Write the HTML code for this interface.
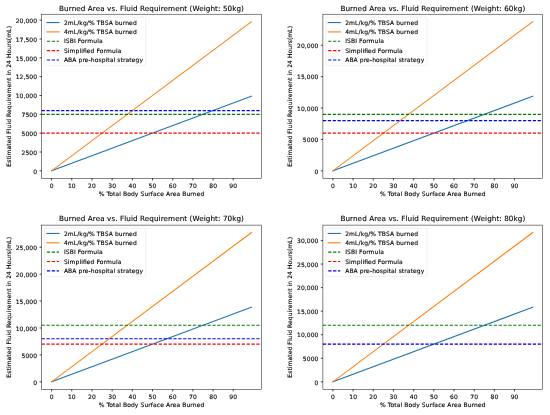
<!DOCTYPE html>
<html lang="en"><head><meta charset="utf-8"><title>Burned Area vs. Fluid Requirement</title>
<style>html,body{margin:0;padding:0;background:#fff;overflow:hidden}svg{filter:blur(0.3px)}svg text{white-space:pre;stroke:#000;stroke-width:0.12px;stroke-linejoin:round}</style>
</head><body>
<svg width="550" height="415" viewBox="0 0 550 415" style="display:block" font-family="'DejaVu Sans', 'Liberation Sans', sans-serif" fill="#000">
<rect width="550" height="415" fill="#fff"/>
<g><path d="M51.59 178.3v2.1M71.77 178.3v2.1M91.96 178.3v2.1M112.14 178.3v2.1M132.33 178.3v2.1M152.51 178.3v2.1M172.69 178.3v2.1M192.88 178.3v2.1M213.06 178.3v2.1M233.24 178.3v2.1M41.6 170.84h-2.1M41.6 152h-2.1M41.6 133.17h-2.1M41.6 114.33h-2.1M41.6 95.5h-2.1M41.6 76.66h-2.1M41.6 57.82h-2.1M41.6 38.99h-2.1M41.6 20.15h-2.1" stroke="#000" stroke-width="0.72" fill="none"/>
<text x="51.59" y="187.7" font-size="6" text-anchor="middle" textLength="3.89" lengthAdjust="spacing">0</text>
<text x="71.77" y="187.7" font-size="6" text-anchor="middle" textLength="7.79" lengthAdjust="spacing">10</text>
<text x="91.96" y="187.7" font-size="6" text-anchor="middle" textLength="7.79" lengthAdjust="spacing">20</text>
<text x="112.14" y="187.7" font-size="6" text-anchor="middle" textLength="7.79" lengthAdjust="spacing">30</text>
<text x="132.33" y="187.7" font-size="6" text-anchor="middle" textLength="7.79" lengthAdjust="spacing">40</text>
<text x="152.51" y="187.7" font-size="6" text-anchor="middle" textLength="7.79" lengthAdjust="spacing">50</text>
<text x="172.69" y="187.7" font-size="6" text-anchor="middle" textLength="7.79" lengthAdjust="spacing">60</text>
<text x="192.88" y="187.7" font-size="6" text-anchor="middle" textLength="7.79" lengthAdjust="spacing">70</text>
<text x="213.06" y="187.7" font-size="6" text-anchor="middle" textLength="7.79" lengthAdjust="spacing">80</text>
<text x="233.24" y="187.7" font-size="6" text-anchor="middle" textLength="7.79" lengthAdjust="spacing">90</text>
<text x="37.1" y="173.59" font-size="6" text-anchor="end" textLength="3.89" lengthAdjust="spacing">0</text>
<text x="37.1" y="154.75" font-size="6" text-anchor="end" textLength="15.58" lengthAdjust="spacing">2500</text>
<text x="37.1" y="135.92" font-size="6" text-anchor="end" textLength="15.58" lengthAdjust="spacing">5000</text>
<text x="37.1" y="117.08" font-size="6" text-anchor="end" textLength="15.58" lengthAdjust="spacing">7500</text>
<text x="37.1" y="98.25" font-size="6" text-anchor="end" textLength="21.41" lengthAdjust="spacing">10,000</text>
<text x="37.1" y="79.41" font-size="6" text-anchor="end" textLength="21.41" lengthAdjust="spacing">12,500</text>
<text x="37.1" y="60.57" font-size="6" text-anchor="end" textLength="21.41" lengthAdjust="spacing">15,000</text>
<text x="37.1" y="41.74" font-size="6" text-anchor="end" textLength="21.41" lengthAdjust="spacing">17,500</text>
<text x="37.1" y="22.9" font-size="6" text-anchor="end" textLength="21.41" lengthAdjust="spacing">20,000</text>
<text x="151.5" y="195.5" font-size="6" text-anchor="middle" textLength="105.52" lengthAdjust="spacing">% Total Body Surface Area Burned</text>
<text x="10.9" y="96.35" font-size="6" text-anchor="middle" textLength="140.68" lengthAdjust="spacing" transform="rotate(-90 10.9 96.35)">Estimated Fluid Requirement in 24 Hours(mL)</text>
<path d="M51.59 170.84L251.41 96.25" stroke="#1f77b4" stroke-width="1.12" fill="none" stroke-linecap="square"/>
<path d="M51.59 170.84L251.41 21.66" stroke="#ff7f0e" stroke-width="1.12" fill="none" stroke-linecap="square"/>
<path d="M41.6 114.33H261.4" stroke="#008000" stroke-width="1.12" stroke-dasharray="3.28 1.6" fill="none"/>
<path d="M41.6 133.17H261.4" stroke="#ff0000" stroke-width="1.12" stroke-dasharray="3.28 1.6" fill="none"/>
<path d="M41.6 110.57H261.4" stroke="#0000ff" stroke-width="1.12" stroke-dasharray="3.28 1.6" fill="none"/>
<rect x="41.6" y="14.2" width="219.8" height="164.1" fill="none" stroke="#000" stroke-width="0.48"/>
<text x="151.5" y="10.5" font-size="7.2" text-anchor="middle" textLength="184.81" lengthAdjust="spacing">Burned Area vs. Fluid Requirement (Weight: 50kg)</text>
<rect x="44.5" y="17.1" width="101.2" height="48.6" rx="1.2" fill="#fff" fill-opacity="0.8" stroke="#ccc" stroke-opacity="0.8" stroke-width="0.38"/>
<path d="M46.9 22.55H59" stroke="#1f77b4" stroke-width="1.12" fill="none" stroke-linecap="square"/>
<text x="63.9" y="24.65" font-size="6" text-anchor="start" textLength="72.81" lengthAdjust="spacing">2mL/kg/% TBSA burned</text>
<path d="M46.9 31.91H59" stroke="#ff7f0e" stroke-width="1.12" fill="none" stroke-linecap="square"/>
<text x="63.9" y="34.01" font-size="6" text-anchor="start" textLength="72.81" lengthAdjust="spacing">4mL/kg/% TBSA burned</text>
<path d="M46.9 41.27H59" stroke="#008000" stroke-width="1.12" fill="none" stroke-dasharray="3.28 1.6"/>
<text x="63.9" y="43.37" font-size="6" text-anchor="start" textLength="38.69" lengthAdjust="spacing">ISBI Formula</text>
<path d="M46.9 50.63H59" stroke="#ff0000" stroke-width="1.12" fill="none" stroke-dasharray="3.28 1.6"/>
<text x="63.9" y="52.73" font-size="6" text-anchor="start" textLength="57.48" lengthAdjust="spacing">Simplified Formula</text>
<path d="M46.9 59.99H59" stroke="#0000ff" stroke-width="1.12" fill="none" stroke-dasharray="3.28 1.6"/>
<text x="63.9" y="62.09" font-size="6" text-anchor="start" textLength="79.09" lengthAdjust="spacing">ABA pre-hospital strategy</text></g>
<g><path d="M332.89 178.3v2.1M353.07 178.3v2.1M373.26 178.3v2.1M393.44 178.3v2.1M413.63 178.3v2.1M433.81 178.3v2.1M453.99 178.3v2.1M474.18 178.3v2.1M494.36 178.3v2.1M514.54 178.3v2.1M322.9 170.84h-2.1M322.9 139.45h-2.1M322.9 108.05h-2.1M322.9 76.66h-2.1M322.9 45.27h-2.1" stroke="#000" stroke-width="0.72" fill="none"/>
<text x="332.89" y="187.7" font-size="6" text-anchor="middle" textLength="3.89" lengthAdjust="spacing">0</text>
<text x="353.07" y="187.7" font-size="6" text-anchor="middle" textLength="7.79" lengthAdjust="spacing">10</text>
<text x="373.26" y="187.7" font-size="6" text-anchor="middle" textLength="7.79" lengthAdjust="spacing">20</text>
<text x="393.44" y="187.7" font-size="6" text-anchor="middle" textLength="7.79" lengthAdjust="spacing">30</text>
<text x="413.63" y="187.7" font-size="6" text-anchor="middle" textLength="7.79" lengthAdjust="spacing">40</text>
<text x="433.81" y="187.7" font-size="6" text-anchor="middle" textLength="7.79" lengthAdjust="spacing">50</text>
<text x="453.99" y="187.7" font-size="6" text-anchor="middle" textLength="7.79" lengthAdjust="spacing">60</text>
<text x="474.18" y="187.7" font-size="6" text-anchor="middle" textLength="7.79" lengthAdjust="spacing">70</text>
<text x="494.36" y="187.7" font-size="6" text-anchor="middle" textLength="7.79" lengthAdjust="spacing">80</text>
<text x="514.54" y="187.7" font-size="6" text-anchor="middle" textLength="7.79" lengthAdjust="spacing">90</text>
<text x="318.4" y="173.59" font-size="6" text-anchor="end" textLength="3.89" lengthAdjust="spacing">0</text>
<text x="318.4" y="142.2" font-size="6" text-anchor="end" textLength="15.58" lengthAdjust="spacing">5000</text>
<text x="318.4" y="110.8" font-size="6" text-anchor="end" textLength="21.41" lengthAdjust="spacing">10,000</text>
<text x="318.4" y="79.41" font-size="6" text-anchor="end" textLength="21.41" lengthAdjust="spacing">15,000</text>
<text x="318.4" y="48.02" font-size="6" text-anchor="end" textLength="21.41" lengthAdjust="spacing">20,000</text>
<text x="432.8" y="195.5" font-size="6" text-anchor="middle" textLength="105.52" lengthAdjust="spacing">% Total Body Surface Area Burned</text>
<text x="292.2" y="96.35" font-size="6" text-anchor="middle" textLength="140.68" lengthAdjust="spacing" transform="rotate(-90 292.2 96.35)">Estimated Fluid Requirement in 24 Hours(mL)</text>
<path d="M332.89 170.84L532.71 96.25" stroke="#1f77b4" stroke-width="1.12" fill="none" stroke-linecap="square"/>
<path d="M332.89 170.84L532.71 21.66" stroke="#ff7f0e" stroke-width="1.12" fill="none" stroke-linecap="square"/>
<path d="M322.9 114.33H542.7" stroke="#008000" stroke-width="1.12" stroke-dasharray="3.28 1.6" fill="none"/>
<path d="M322.9 133.17H542.7" stroke="#ff0000" stroke-width="1.12" stroke-dasharray="3.28 1.6" fill="none"/>
<path d="M322.9 120.61H542.7" stroke="#0000ff" stroke-width="1.12" stroke-dasharray="3.28 1.6" fill="none"/>
<rect x="322.9" y="14.2" width="219.8" height="164.1" fill="none" stroke="#000" stroke-width="0.48"/>
<text x="432.8" y="10.5" font-size="7.2" text-anchor="middle" textLength="184.81" lengthAdjust="spacing">Burned Area vs. Fluid Requirement (Weight: 60kg)</text>
<rect x="325.8" y="17.1" width="101.2" height="48.6" rx="1.2" fill="#fff" fill-opacity="0.8" stroke="#ccc" stroke-opacity="0.8" stroke-width="0.38"/>
<path d="M328.2 22.55H340.3" stroke="#1f77b4" stroke-width="1.12" fill="none" stroke-linecap="square"/>
<text x="345.2" y="24.65" font-size="6" text-anchor="start" textLength="72.81" lengthAdjust="spacing">2mL/kg/% TBSA burned</text>
<path d="M328.2 31.91H340.3" stroke="#ff7f0e" stroke-width="1.12" fill="none" stroke-linecap="square"/>
<text x="345.2" y="34.01" font-size="6" text-anchor="start" textLength="72.81" lengthAdjust="spacing">4mL/kg/% TBSA burned</text>
<path d="M328.2 41.27H340.3" stroke="#008000" stroke-width="1.12" fill="none" stroke-dasharray="3.28 1.6"/>
<text x="345.2" y="43.37" font-size="6" text-anchor="start" textLength="38.69" lengthAdjust="spacing">ISBI Formula</text>
<path d="M328.2 50.63H340.3" stroke="#ff0000" stroke-width="1.12" fill="none" stroke-dasharray="3.28 1.6"/>
<text x="345.2" y="52.73" font-size="6" text-anchor="start" textLength="57.48" lengthAdjust="spacing">Simplified Formula</text>
<path d="M328.2 59.99H340.3" stroke="#0000ff" stroke-width="1.12" fill="none" stroke-dasharray="3.28 1.6"/>
<text x="345.2" y="62.09" font-size="6" text-anchor="start" textLength="79.09" lengthAdjust="spacing">ABA pre-hospital strategy</text></g>
<g><path d="M51.59 389.3v2.1M71.77 389.3v2.1M91.96 389.3v2.1M112.14 389.3v2.1M132.33 389.3v2.1M152.51 389.3v2.1M172.69 389.3v2.1M192.88 389.3v2.1M213.06 389.3v2.1M233.24 389.3v2.1M41.6 381.84h-2.1M41.6 354.91h-2.1M41.6 327.99h-2.1M41.6 301.06h-2.1M41.6 274.14h-2.1M41.6 247.21h-2.1" stroke="#000" stroke-width="0.72" fill="none"/>
<text x="51.59" y="398.7" font-size="6" text-anchor="middle" textLength="3.89" lengthAdjust="spacing">0</text>
<text x="71.77" y="398.7" font-size="6" text-anchor="middle" textLength="7.79" lengthAdjust="spacing">10</text>
<text x="91.96" y="398.7" font-size="6" text-anchor="middle" textLength="7.79" lengthAdjust="spacing">20</text>
<text x="112.14" y="398.7" font-size="6" text-anchor="middle" textLength="7.79" lengthAdjust="spacing">30</text>
<text x="132.33" y="398.7" font-size="6" text-anchor="middle" textLength="7.79" lengthAdjust="spacing">40</text>
<text x="152.51" y="398.7" font-size="6" text-anchor="middle" textLength="7.79" lengthAdjust="spacing">50</text>
<text x="172.69" y="398.7" font-size="6" text-anchor="middle" textLength="7.79" lengthAdjust="spacing">60</text>
<text x="192.88" y="398.7" font-size="6" text-anchor="middle" textLength="7.79" lengthAdjust="spacing">70</text>
<text x="213.06" y="398.7" font-size="6" text-anchor="middle" textLength="7.79" lengthAdjust="spacing">80</text>
<text x="233.24" y="398.7" font-size="6" text-anchor="middle" textLength="7.79" lengthAdjust="spacing">90</text>
<text x="37.1" y="384.59" font-size="6" text-anchor="end" textLength="3.89" lengthAdjust="spacing">0</text>
<text x="37.1" y="357.66" font-size="6" text-anchor="end" textLength="15.58" lengthAdjust="spacing">5000</text>
<text x="37.1" y="330.74" font-size="6" text-anchor="end" textLength="21.41" lengthAdjust="spacing">10,000</text>
<text x="37.1" y="303.81" font-size="6" text-anchor="end" textLength="21.41" lengthAdjust="spacing">15,000</text>
<text x="37.1" y="276.89" font-size="6" text-anchor="end" textLength="21.41" lengthAdjust="spacing">20,000</text>
<text x="37.1" y="249.96" font-size="6" text-anchor="end" textLength="21.41" lengthAdjust="spacing">25,000</text>
<text x="151.5" y="406.5" font-size="6" text-anchor="middle" textLength="105.52" lengthAdjust="spacing">% Total Body Surface Area Burned</text>
<text x="10.9" y="307.3" font-size="6" text-anchor="middle" textLength="140.68" lengthAdjust="spacing" transform="rotate(-90 10.9 307.3)">Estimated Fluid Requirement in 24 Hours(mL)</text>
<path d="M51.59 381.84L251.41 307.2" stroke="#1f77b4" stroke-width="1.12" fill="none" stroke-linecap="square"/>
<path d="M51.59 381.84L251.41 232.56" stroke="#ff7f0e" stroke-width="1.12" fill="none" stroke-linecap="square"/>
<path d="M41.6 325.29H261.4" stroke="#008000" stroke-width="1.12" stroke-dasharray="3.28 1.6" fill="none"/>
<path d="M41.6 344.14H261.4" stroke="#ff0000" stroke-width="1.12" stroke-dasharray="3.28 1.6" fill="none"/>
<path d="M41.6 338.76H261.4" stroke="#0000ff" stroke-width="1.12" stroke-dasharray="3.28 1.6" fill="none"/>
<rect x="41.6" y="225.1" width="219.8" height="164.2" fill="none" stroke="#000" stroke-width="0.48"/>
<text x="151.5" y="221.4" font-size="7.2" text-anchor="middle" textLength="184.81" lengthAdjust="spacing">Burned Area vs. Fluid Requirement (Weight: 70kg)</text>
<rect x="44.5" y="228" width="101.2" height="48.6" rx="1.2" fill="#fff" fill-opacity="0.8" stroke="#ccc" stroke-opacity="0.8" stroke-width="0.38"/>
<path d="M46.9 233.45H59" stroke="#1f77b4" stroke-width="1.12" fill="none" stroke-linecap="square"/>
<text x="63.9" y="235.55" font-size="6" text-anchor="start" textLength="72.81" lengthAdjust="spacing">2mL/kg/% TBSA burned</text>
<path d="M46.9 242.81H59" stroke="#ff7f0e" stroke-width="1.12" fill="none" stroke-linecap="square"/>
<text x="63.9" y="244.91" font-size="6" text-anchor="start" textLength="72.81" lengthAdjust="spacing">4mL/kg/% TBSA burned</text>
<path d="M46.9 252.17H59" stroke="#008000" stroke-width="1.12" fill="none" stroke-dasharray="3.28 1.6"/>
<text x="63.9" y="254.27" font-size="6" text-anchor="start" textLength="38.69" lengthAdjust="spacing">ISBI Formula</text>
<path d="M46.9 261.53H59" stroke="#ff0000" stroke-width="1.12" fill="none" stroke-dasharray="3.28 1.6"/>
<text x="63.9" y="263.63" font-size="6" text-anchor="start" textLength="57.48" lengthAdjust="spacing">Simplified Formula</text>
<path d="M46.9 270.89H59" stroke="#0000ff" stroke-width="1.12" fill="none" stroke-dasharray="3.28 1.6"/>
<text x="63.9" y="272.99" font-size="6" text-anchor="start" textLength="79.09" lengthAdjust="spacing">ABA pre-hospital strategy</text></g>
<g><path d="M332.89 389.3v2.1M353.07 389.3v2.1M373.26 389.3v2.1M393.44 389.3v2.1M413.63 389.3v2.1M433.81 389.3v2.1M453.99 389.3v2.1M474.18 389.3v2.1M494.36 389.3v2.1M514.54 389.3v2.1M322.9 381.84h-2.1M322.9 358.28h-2.1M322.9 334.72h-2.1M322.9 311.16h-2.1M322.9 287.6h-2.1M322.9 264.04h-2.1M322.9 240.48h-2.1" stroke="#000" stroke-width="0.72" fill="none"/>
<text x="332.89" y="398.7" font-size="6" text-anchor="middle" textLength="3.89" lengthAdjust="spacing">0</text>
<text x="353.07" y="398.7" font-size="6" text-anchor="middle" textLength="7.79" lengthAdjust="spacing">10</text>
<text x="373.26" y="398.7" font-size="6" text-anchor="middle" textLength="7.79" lengthAdjust="spacing">20</text>
<text x="393.44" y="398.7" font-size="6" text-anchor="middle" textLength="7.79" lengthAdjust="spacing">30</text>
<text x="413.63" y="398.7" font-size="6" text-anchor="middle" textLength="7.79" lengthAdjust="spacing">40</text>
<text x="433.81" y="398.7" font-size="6" text-anchor="middle" textLength="7.79" lengthAdjust="spacing">50</text>
<text x="453.99" y="398.7" font-size="6" text-anchor="middle" textLength="7.79" lengthAdjust="spacing">60</text>
<text x="474.18" y="398.7" font-size="6" text-anchor="middle" textLength="7.79" lengthAdjust="spacing">70</text>
<text x="494.36" y="398.7" font-size="6" text-anchor="middle" textLength="7.79" lengthAdjust="spacing">80</text>
<text x="514.54" y="398.7" font-size="6" text-anchor="middle" textLength="7.79" lengthAdjust="spacing">90</text>
<text x="318.4" y="384.59" font-size="6" text-anchor="end" textLength="3.89" lengthAdjust="spacing">0</text>
<text x="318.4" y="361.03" font-size="6" text-anchor="end" textLength="15.58" lengthAdjust="spacing">5000</text>
<text x="318.4" y="337.47" font-size="6" text-anchor="end" textLength="21.41" lengthAdjust="spacing">10,000</text>
<text x="318.4" y="313.91" font-size="6" text-anchor="end" textLength="21.41" lengthAdjust="spacing">15,000</text>
<text x="318.4" y="290.35" font-size="6" text-anchor="end" textLength="21.41" lengthAdjust="spacing">20,000</text>
<text x="318.4" y="266.79" font-size="6" text-anchor="end" textLength="21.41" lengthAdjust="spacing">25,000</text>
<text x="318.4" y="243.23" font-size="6" text-anchor="end" textLength="21.41" lengthAdjust="spacing">30,000</text>
<text x="432.8" y="406.5" font-size="6" text-anchor="middle" textLength="105.52" lengthAdjust="spacing">% Total Body Surface Area Burned</text>
<text x="292.2" y="307.3" font-size="6" text-anchor="middle" textLength="140.68" lengthAdjust="spacing" transform="rotate(-90 292.2 307.3)">Estimated Fluid Requirement in 24 Hours(mL)</text>
<path d="M332.89 381.84L532.71 307.2" stroke="#1f77b4" stroke-width="1.12" fill="none" stroke-linecap="square"/>
<path d="M332.89 381.84L532.71 232.56" stroke="#ff7f0e" stroke-width="1.12" fill="none" stroke-linecap="square"/>
<path d="M322.9 325.29H542.7" stroke="#008000" stroke-width="1.12" stroke-dasharray="3.28 1.6" fill="none"/>
<path d="M322.9 344.14H542.7" stroke="#ff0000" stroke-width="1.12" stroke-dasharray="3.28 1.6" fill="none" stroke-opacity="0.2"/>
<path d="M322.9 344.14H542.7" stroke="#0000ff" stroke-width="1.12" stroke-dasharray="3.28 1.6" fill="none"/>
<rect x="322.9" y="225.1" width="219.8" height="164.2" fill="none" stroke="#000" stroke-width="0.48"/>
<text x="432.8" y="221.4" font-size="7.2" text-anchor="middle" textLength="184.81" lengthAdjust="spacing">Burned Area vs. Fluid Requirement (Weight: 80kg)</text>
<rect x="325.8" y="228" width="101.2" height="48.6" rx="1.2" fill="#fff" fill-opacity="0.8" stroke="#ccc" stroke-opacity="0.8" stroke-width="0.38"/>
<path d="M328.2 233.45H340.3" stroke="#1f77b4" stroke-width="1.12" fill="none" stroke-linecap="square"/>
<text x="345.2" y="235.55" font-size="6" text-anchor="start" textLength="72.81" lengthAdjust="spacing">2mL/kg/% TBSA burned</text>
<path d="M328.2 242.81H340.3" stroke="#ff7f0e" stroke-width="1.12" fill="none" stroke-linecap="square"/>
<text x="345.2" y="244.91" font-size="6" text-anchor="start" textLength="72.81" lengthAdjust="spacing">4mL/kg/% TBSA burned</text>
<path d="M328.2 252.17H340.3" stroke="#008000" stroke-width="1.12" fill="none" stroke-dasharray="3.28 1.6"/>
<text x="345.2" y="254.27" font-size="6" text-anchor="start" textLength="38.69" lengthAdjust="spacing">ISBI Formula</text>
<path d="M328.2 261.53H340.3" stroke="#ff0000" stroke-width="1.12" fill="none" stroke-dasharray="3.28 1.6"/>
<text x="345.2" y="263.63" font-size="6" text-anchor="start" textLength="57.48" lengthAdjust="spacing">Simplified Formula</text>
<path d="M328.2 270.89H340.3" stroke="#0000ff" stroke-width="1.12" fill="none" stroke-dasharray="3.28 1.6"/>
<text x="345.2" y="272.99" font-size="6" text-anchor="start" textLength="79.09" lengthAdjust="spacing">ABA pre-hospital strategy</text></g>
</svg>
</body></html>
